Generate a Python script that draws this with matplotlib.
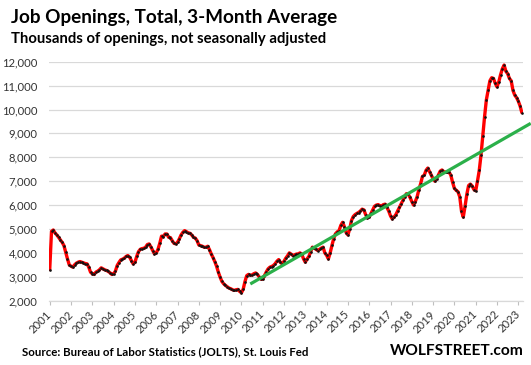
import matplotlib
matplotlib.use("Agg")
import matplotlib.pyplot as plt
import numpy as np

# ---------------- data (thousands of job openings, 3-month average, monthly) ----------------
start_year, start_month = 2001, 1
job_openings = [
    3305, 4900, 4958, 4833, 4750, 4653, 4542, 4444, 4306, 4028, 3750, 3500,   # 2001
    3444, 3403, 3500, 3569, 3611, 3639, 3611, 3583, 3556, 3542, 3403, 3194,   # 2002
    3125, 3097, 3194, 3236, 3292, 3375, 3333, 3292, 3264, 3222, 3167, 3097,   # 2003
    3125, 3236, 3472, 3597, 3708, 3736, 3780, 3850, 3889, 3819, 3681, 3542,   # 2004
    3600, 3850, 4050, 4150, 4180, 4194, 4236, 4350, 4375, 4250, 4100, 3960,   # 2005
    4000, 4150, 4400, 4700, 4680, 4792, 4792, 4653, 4640, 4514, 4400, 4380,   # 2006
    4444, 4583, 4750, 4861, 4931, 4889, 4840, 4820, 4750, 4653, 4620, 4514,   # 2007
    4333, 4306, 4278, 4236, 4236, 4278, 4139, 3958, 3806, 3639, 3444, 3194,   # 2008
    2986, 2806, 2708, 2639, 2583, 2528, 2500, 2458, 2431, 2458, 2472, 2389,   # 2009
    2330, 2480, 2800, 3050, 3100, 3060, 3080, 3130, 3160, 3100, 3000, 2900,   # 2010
    2900, 3050, 3200, 3330, 3400, 3430, 3470, 3550, 3650, 3720, 3600, 3540,   # 2011
    3650, 3780, 3880, 4000, 3950, 3890, 3920, 3950, 3960, 4000, 3950, 3750,   # 2012
    3610, 3750, 3850, 4050, 4240, 4200, 4150, 4100, 4150, 4200, 4240, 4000,   # 2013
    3900, 3750, 4000, 4310, 4600, 4800, 4880, 4930, 5150, 5280, 5100, 4850,   # 2014
    4750, 5000, 5350, 5520, 5600, 5650, 5690, 5750, 5830, 5800, 5600, 5460,   # 2015
    5500, 5650, 5800, 5950, 6000, 6020, 5980, 5970, 6020, 6040, 5900, 5750,   # 2016
    5550, 5420, 5500, 5600, 5750, 5900, 6050, 6200, 6350, 6480, 6450, 6320,   # 2017
    6150, 6000, 6150, 6350, 6650, 6900, 7200, 7250, 7450, 7550, 7400, 7250,   # 2018
    7100, 7000, 7100, 7260, 7420, 7470, 7400, 7380, 7370, 7380, 7250, 6950,   # 2019
    6700, 6620, 6560, 6350, 5750, 5500, 5950, 6450, 6820, 6880, 6800, 6650,   # 2020
    6600, 7000, 7450, 8100, 8900, 9700, 10400, 10800, 11200, 11330, 11300, 11100,  # 2021
    10950, 11150, 11450, 11700, 11860, 11600, 11500, 11300, 11200, 10800, 10600, 10500,  # 2022
    10350, 10150, 9870,                                                        # 2023
]

# linear trend line (start / end): (year, month, value)
trend_points = [(2010, 6, 2700), (2023, 8, 9420)]

year_labels = list(range(2001, 2024))
y_ticks = [2000, 3000, 4000, 5000, 6000, 7000, 8000, 9000, 10000, 11000, 12000]

title = "Job Openings, Total, 3-Month Average"
subtitle = "Thousands of openings, not seasonally adjusted"
source = "Source: Bureau of Labor Statistics (JOLTS), St. Louis Fed"
brand = "WOLFSTREET.com"

# ---------------- figure ----------------
FONT = ["Lato", "DejaVu Sans"]
plt.rcParams["font.family"] = FONT

W, H = 531, 365
fig = plt.figure(figsize=(W / 100, H / 100), dpi=100)
left, right, top, bottom = 49.3, 523.3, 61.7, 300.7
ax = fig.add_axes([left / W, 1 - bottom / H, (right - left) / W, (bottom - top) / H])

x = start_year + (start_month - 1) / 12 + np.arange(len(job_openings)) / 12
y = np.array(job_openings)

ax.plot(x, y, color="#ff0000", lw=2.4, zorder=3, solid_joinstyle="round", solid_capstyle="round")
ax.plot(x, y, ls="none", marker="o", ms=1.9, mew=0, color="#111111", zorder=4)

tx = [yy + (mm - 1) / 12 for yy, mm, _ in trend_points]
ty = [v for _, _, v in trend_points]
ax.plot(tx, ty, color="#2bb04a", lw=2.3, zorder=5, clip_on=False, solid_capstyle="butt")

ax.set_xlim(2000.98, 2023.235)
ax.set_ylim(y_ticks[0], y_ticks[-1])

ax.set_yticks(y_ticks)
ax.set_yticklabels([f"{v:,}" for v in y_ticks], fontsize=8.1, color="#333333")
ax.tick_params(axis="y", length=0, pad=8.5)
ax.yaxis.grid(True, color="#d9d9d9", lw=0.9)
ax.set_axisbelow(True)

ax.set_xticks(year_labels)
ax.set_xticklabels([str(v) for v in year_labels], fontsize=8.1, color="#333333")
for lab in ax.get_xticklabels():
    lab.set_rotation(45)
    lab.set_ha("right")
    lab.set_va("center")
    lab.set_rotation_mode("anchor")
ax.tick_params(axis="x", length=3, width=0.8, color="#bfbfbf", pad=5.5, direction="out")

for s in ["top", "right", "left"]:
    ax.spines[s].set_visible(False)
ax.spines["bottom"].set_color("#d9d9d9")
ax.spines["bottom"].set_linewidth(0.9)

fig.text(11 / W, 1 - 23.3 / H, title, fontsize=13.6, fontweight="bold", va="baseline", ha="left", color="black")
fig.text(11 / W, 1 - 43.3 / H, subtitle, fontsize=10.7, fontweight="bold", va="baseline", ha="left", color="black")
fig.text(21.7 / W, 1 - 355 / H, source, fontsize=8.3, fontweight="bold", va="baseline", ha="left", color="black")
fig.text(523.3 / W, 1 - 355 / H, brand, fontsize=11.2, fontweight="bold", va="baseline", ha="right", color="black")

fig.savefig("out.png", dpi=100)
